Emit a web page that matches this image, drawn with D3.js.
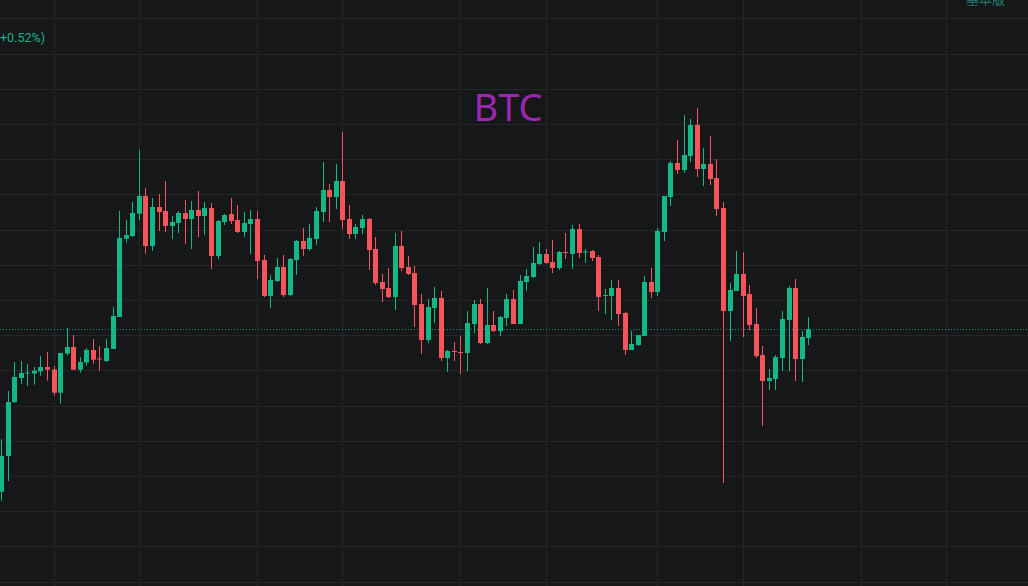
<!DOCTYPE html>
<html lang="en">
<head>
<meta charset="UTF-8">
<title>BTC candles</title>
<script src="https://d3js.org/d3.v7.min.js"></script>
<style>
  html, body { margin: 0; padding: 0; background: #161719; overflow: hidden; }
  svg { display: block; }
  .grid line { stroke: #252629; stroke-width: 1px; shape-rendering: crispEdges; }
  .grid path, .grid text { display: none; }
</style>
</head>
<body>
<div id="chart"></div>
<script>

// candle data, one entry per bar (price units of the chart)
var open = [108.3,144,198,222,226.5,226.5,228.5,233,230.5,207.3,246.5,253,230.3,237.5,250,241.5,239,251,283,361.3,
  364,386.3,404,354,393,389,374,377,387,381,390,384,392,344,378,386,380,368,376,381,
  340,304,319,333,305,340,359,351,361,388,410,403,419,381,366,372,381,351,318,312,
  303,354,333,327,296,260,292,302,242,249,248,247,276,296,257,275,269,282,301,276,
  318,323,336,346,338,332,348,346,371,347.5,349,343,304,304,312,287,250,255,264,318,
  308,368,403,437,430,444,475,431,436,422,392,289,309,326,306,276,245,219,221,242,
  280,312,241,262];
var high = [160.7,209,238,239,236,233,244,248,234,247,272,265,243,252,261,254,261,293,389,380,
  398,450,412,402,406,419,384,389,400,399,409,398,397,380,386,402,395,388,390,389,
  345,325,342,345,342,360,372,376,393,438,416,436,468,395,376,385,382,363,326,332,
  367,369,344,334,306,301,313,309,250,258,264,289,300,301,312,289,284,306,310,325,
  331,353,358,351,360,349,367,375,376,351,350,345,311,320,320,288,269,265,324,332,
  372,404,439,460,485,481,492,452,464,441,398,317,349,348,315,292,254,231,245,289,
  314,321,269,283];
var low = [99.3,119,197,216,214,215.3,224.3,219.3,204.3,196.3,244.3,230.3,227.3,234.3,236.3,229.3,238,251,283,357.3,
  363,380,346.3,349,369,368,361,367,356,351,363,365,331,341,375,376,367,363,346,321,
  303,292,318,303,304,325,344,349,355,378,378,391,371,361,361,366,330,315,298,302,
  290,329,325,273,246,257,277,239,228,239,226,229,267,256,256,268,264,274,276,276,
  309,322,335,336,327,330,341,331,342,337,339,289,286,280,274,245,250,254,264,302,
  304,359,394,426,427,438,423,414,415,384,117,259,309,263,270,242,174,210,210,229,
  229,219,218,255];
var close = [144,198,223,227,227.5,229.3,233,230.3,207.3,247,253,230.3,238,250,240.3,240.5,252,284,362,365,
  387,404,354,393,388,374,378,387,381,390,384,392,344,379,385,379,368,377,381,339,
  304,320,333,305,341,359,351,362,389,410,403,419,380,366,373,381,350,317,311,303,
  354,332,326,295,260,293,302,242,249,248,247,277,296,257,275,269,283,301,276,319,
  324,337,346,337,332,348,347,371,347,348.5,342,303,305,312,286,250,256,265,318,308,
  369,404,437,430,445,475,431,436,421,391,289,310,326,304,275,244,219,222,243,281,
  312,241,263,270.7];

// time-label positions (bar index) where the vertical grid lines sit
var timeTicks = [8, 21, 39, 52, 70, 83, 100, 113, 131, 144];

var title = "BTC";
var changeLabel = "(+0.52%)";
var topRightLabel = "基本版";

var width = 1028, height = 586;
var upColor = "#12b886", downColor = "#f6535a";

var candles = open.map(function(o, i) {
  return {i: i, o: o, h: high[i], l: low[i], c: close[i]};
});

var svg = d3.select("#chart").append("svg")
    .attr("width", width)
    .attr("height", height)
    .style("background", "#161719");

var x = d3.scaleLinear()
    .domain([0, 123])
    .range([1, 808.3]);

var y = d3.scaleLinear()
    .domain([0, 600])
    .range([600, 0]);

// horizontal price grid
var priceLevels = d3.range(581.6, 0, -35.2);
svg.append("g")
    .attr("class", "grid")
    .call(d3.axisRight(y).tickValues(priceLevels).tickSize(width));

// vertical time grid
svg.append("g")
    .attr("class", "grid")
    .attr("transform", "translate(0," + height + ")")
    .call(d3.axisBottom(x).tickValues(timeTicks).tickSize(-height));

svg.append("text")
    .attr("x", 508)
    .attr("y", 121)
    .attr("text-anchor", "middle")
    .style("font-family", "'Noto Sans', sans-serif")
    .style("font-size", "38px")
    .style("fill", "#9c27b0")
    .text(title);

svg.append("text")
    .attr("x", 45)
    .attr("y", 42)
    .attr("text-anchor", "end")
    .style("font-family", "Roboto, sans-serif")
    .style("font-size", "12.5px")
    .style("fill", "#17b48a")
    .text(changeLabel);

svg.append("text")
    .attr("x", 966)
    .attr("y", 4)
    .style("font-family", "'Noto Sans CJK SC', sans-serif")
    .style("font-size", "13px")
    .style("fill", "#1f7f73")
    .text(topRightLabel);

// last price line
var last = close[close.length - 1];
svg.append("line")
    .attr("x1", 0)
    .attr("x2", width)
    .attr("y1", Math.round(y(last)) + 0.5)
    .attr("y2", Math.round(y(last)) + 0.5)
    .style("stroke", "#1a9b80")
    .style("stroke-width", 1)
    .style("stroke-dasharray", "1,2");

var g = svg.append("g");

var bar = g.selectAll(".candle")
    .data(candles)
  .enter().append("g")
    .attr("class", "candle")
    .style("fill", function(d) { return d.c >= d.o ? upColor : downColor; })
    .style("stroke", function(d) { return d.c >= d.o ? upColor : downColor; });

bar.append("line")
    .attr("x1", function(d) { return Math.round(x(d.i)) + 0.5; })
    .attr("x2", function(d) { return Math.round(x(d.i)) + 0.5; })
    .attr("y1", function(d) { return y(d.h); })
    .attr("y2", function(d) { return y(d.l); })
    .style("stroke-width", 1);

bar.append("rect")
    .attr("x", function(d) { return Math.round(x(d.i)) - 2; })
    .attr("width", 5)
    .attr("y", function(d) { return y(Math.max(d.o, d.c)); })
    .attr("height", function(d) { return Math.max(1, Math.abs(y(d.o) - y(d.c))); })
    .style("stroke", "none");

</script>
</body>
</html>
